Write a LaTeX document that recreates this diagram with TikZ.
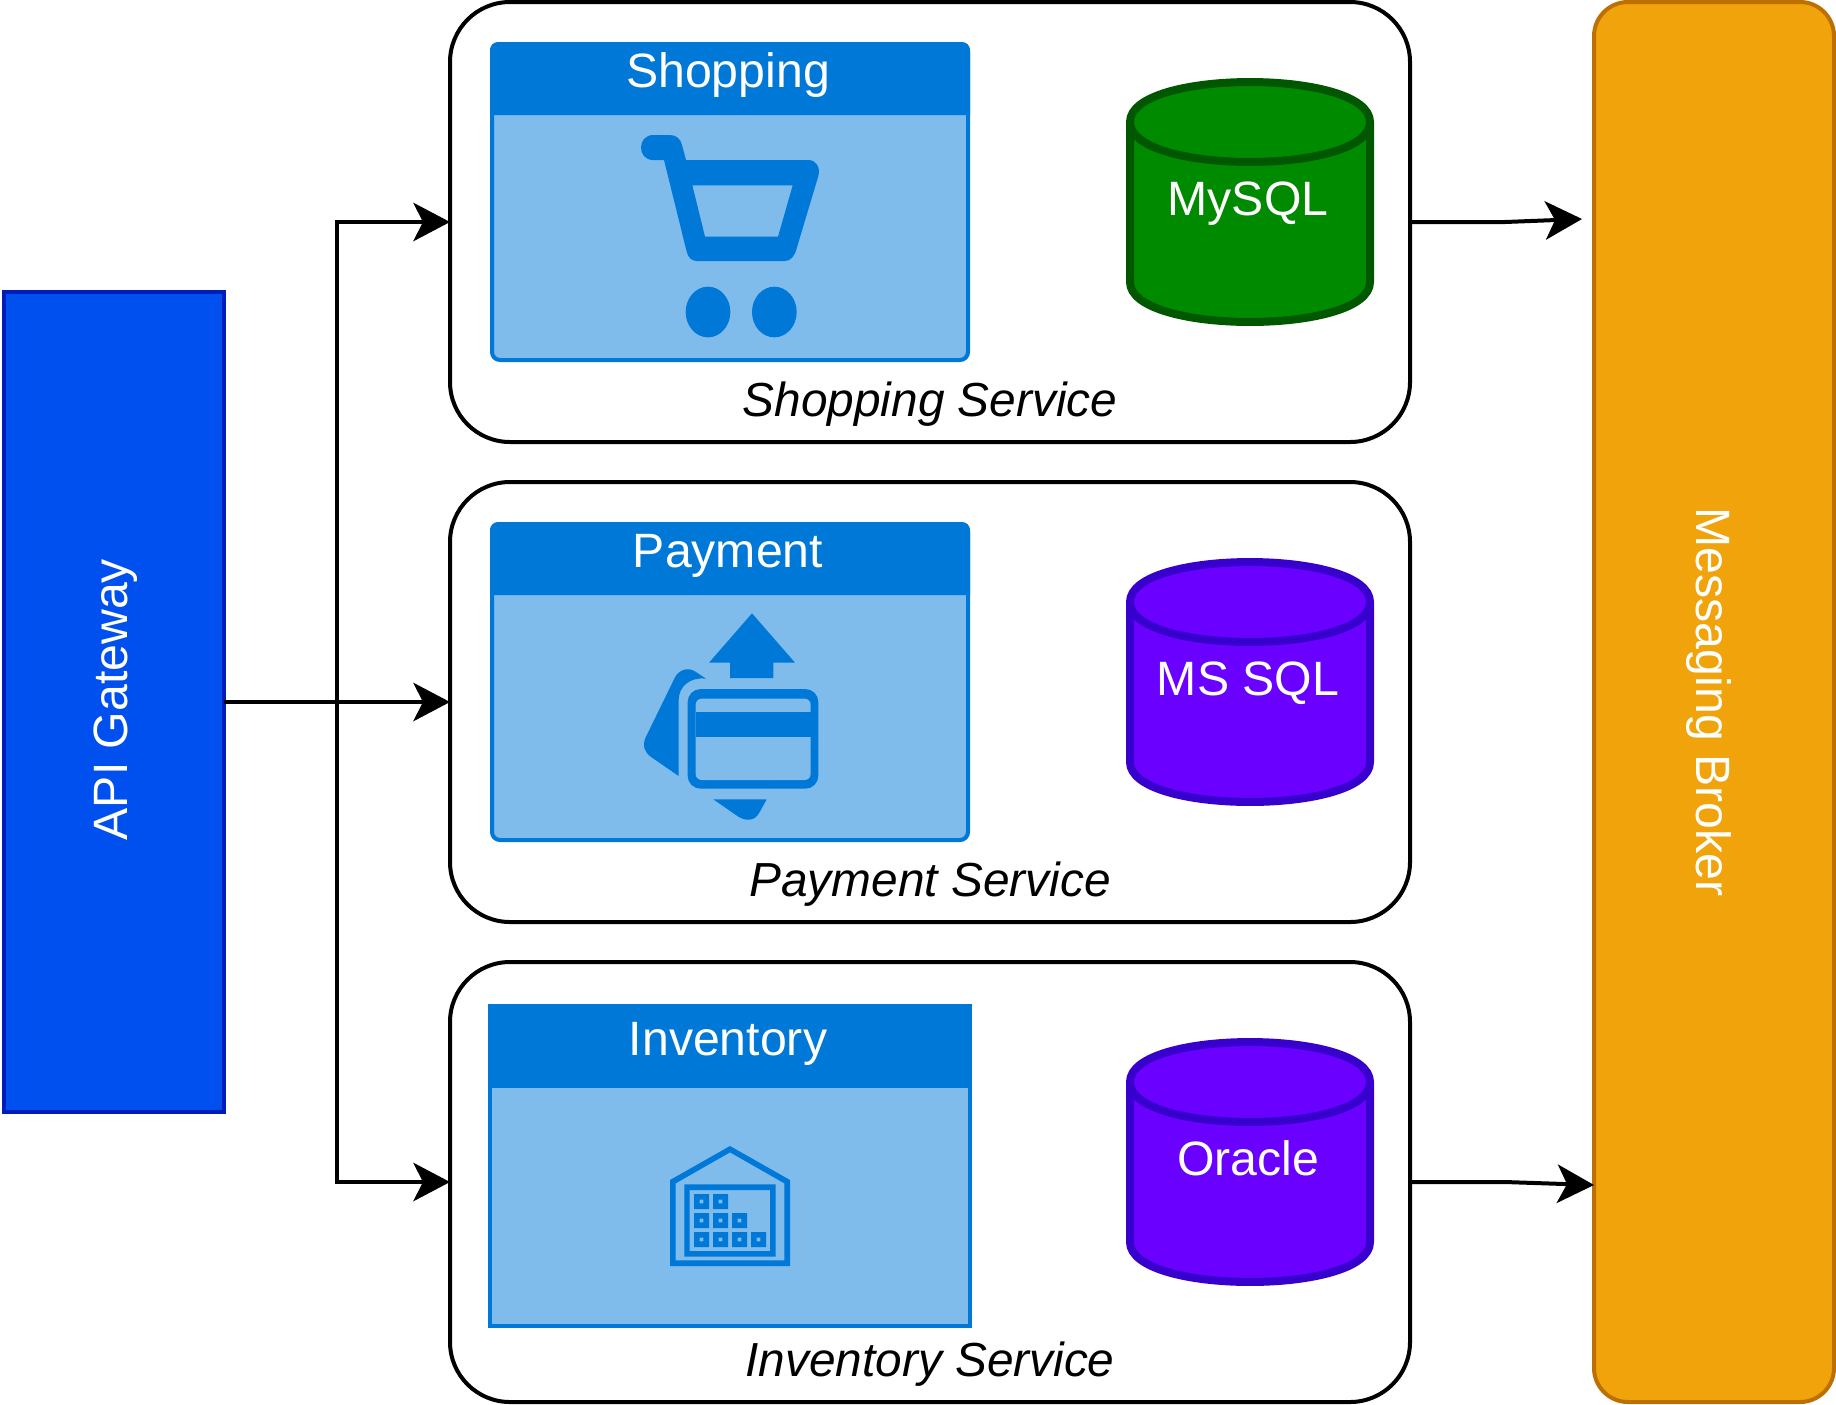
\documentclass[tikz,border=0pt]{standalone}
\usepackage{fontspec}
\setmainfont{Liberation Sans}
\usetikzlibrary{arrows.meta}
\definecolor{azure}{HTML}{0078D7}
\definecolor{azurelt}{HTML}{7FBBEB}
\definecolor{gwfill}{HTML}{0050EF}
\definecolor{gwline}{HTML}{001DBC}
\definecolor{mbfill}{HTML}{F0A30A}
\definecolor{mbline}{HTML}{BD7000}
\definecolor{grfill}{HTML}{008A00}
\definecolor{grline}{HTML}{005700}
\definecolor{pufill}{HTML}{6A00FF}
\definecolor{puline}{HTML}{3700CC}
\tikzset{
  base/.style={inner sep=0pt,outer sep=0pt},
  lbl/.style={base,font=\fontsize{24.1pt}{26pt}\selectfont,anchor=base},
  wlbl/.style={lbl,text=white},
  ilbl/.style={lbl,font=\fontsize{23.9pt}{26pt}\selectfont\itshape},
  service/.style={base,draw=black,line width=2pt,fill=white,rounded corners=30pt,minimum width=480pt,minimum height=220pt},
  panel/.style={base,draw=azure,line width=2pt,fill=azurelt,minimum width=238pt,minimum height=158pt},
  conn/.style={draw=black,line width=2pt,-{Stealth[length=18.5pt,width=19.5pt,inset=5pt,line width=0pt]}},
  icon/.style={fill=azure,draw=none,even odd rule},
  zoomed/.style={x=0.16667pt,y=-0.16667pt}
}
\newcommand{\dbcyl}[3]{%
  \begin{scope}[shift={(0,#1)}]
    \path[draw=#3,fill=#2,line width=4pt]
      (1130,122) .. controls (1130,68.7) and (1370,68.7) .. (1370,122)
      -- (1370,282) .. controls (1370,335.3) and (1130,335.3) .. (1130,282) -- cycle;
    \draw[#3,line width=4pt] (1130,122) .. controls (1130,175.3) and (1370,175.3) .. (1370,122);
  \end{scope}}
\begin{document}
\begin{tikzpicture}[x=0.5pt,y=-0.5pt]
\useasboundingbox (0,0) rectangle (1836,1404);
% gateway and broker
\node[base,draw=gwline,fill=gwfill,line width=2pt,minimum width=110pt,minimum height=410pt] (gw) at (114,702) {};
\node[wlbl,rotate=90] (gwt) at (127,699.5) {API Gateway};
\node[base,draw=mbline,fill=mbfill,line width=2pt,rounded corners=17pt,minimum width=120pt,minimum height=700pt] (mb) at (1714,702) {};
\node[wlbl,rotate=-90] (mbt) at (1696.5,702) {Messaging Broker};
% services
\node[service] (shop) at (930,222) {};
\node[service] (pay) at (930,702) {};
\node[service] (inv) at (930,1182) {};
\node[ilbl] (shopt) at (930,416) {Shopping Service};
\node[ilbl] (payt) at (930,896) {Payment Service};
\node[ilbl] (invt) at (930,1376) {Inventory Service};
% Shopping panel
\node[panel,rounded corners=4pt] (shopb) at (730,202) {};
\fill[azure] (490,115) -- (490,48) [rounded corners=4pt] -- (490,42) -- (970,42) [sharp corners] -- (970,115) -- cycle;
\node[wlbl] (shoph) at (728,87) {Shopping};
% Payment panel
\node[panel,rounded corners=4pt] (payb) at (730,682) {};
\fill[azure] (490,595) -- (490,528) [rounded corners=4pt] -- (490,522) -- (970,522) [sharp corners] -- (970,595) -- cycle;
\node[wlbl] (payh) at (728,567) {Payment};
% Inventory panel
\node[panel,minimum width=240pt,minimum height=160pt] (invb) at (730,1166) {};
\fill[azure] (488,1088) rectangle (972,1004);
\node[wlbl] (invh) at (728,1055) {Inventory};
% cart
\begin{scope}[shift={(480,30)},zoomed]
\path[icon] (520,315) -- (570,315) .. controls (590,315) and (602,328) .. (606,345) -- (618,390) -- (985,390)
  .. controls (1008,390) and (1022,412) .. (1015,438) -- (950,655) .. controls (944,678) and (932,693) .. (915,693)
  -- (650,693) .. controls (635,693) and (624,682) .. (620,665) -- (552,390) -- (520,390)
  .. controls (495,390) and (483,372) .. (483,352) .. controls (483,332) and (497,315) .. (520,315) -- cycle
  (637,466) -- (938,466) -- (894,620) -- (675,620) -- cycle;
\fill[azure] (684,846) ellipse [x radius=67,y radius=76];
\fill[azure] (883,846) ellipse [x radius=67,y radius=76];
\end{scope}
% payment icon
\begin{scope}[shift={(620,600)},zoomed]
\path[icon] (396,40) -- (525,188) -- (460,188) -- (460,234) -- (330,234) -- (330,188) -- (267,188) -- cycle;
\path[icon] (258,236) -- (228,216) .. controls (205,200) and (178,208) .. (165,232) -- (78,410)
  .. controls (66,435) and (72,455) .. (92,470) -- (176,528) -- (176,300) .. controls (176,260) and (210,230) .. (258,236) -- cycle;
\path[icon,rounded corners=6.5pt] (203,267) rectangle (595,566);
\path[fill=azurelt,rounded corners=3pt] (227,296) rectangle (572,540);
\fill[azure] (227,336) rectangle (572,410);
\path[icon] (280,598) -- (440,598) -- (418,638) .. controls (405,662) and (380,665) .. (355,650) -- cycle;
\end{scope}
% warehouse icon
\begin{scope}[shift={(480,990)},zoomed]
\path[icon] (750,468) -- (930,570) -- (930,828) -- (570,828) -- (570,570) -- cycle
  (750,487) -- (913,580) -- (913,811) -- (587,811) -- (587,580) -- cycle
  (613,583) rectangle (887,800) (629,600) rectangle (870,783);
\foreach \bx/\by in {642/612,699/612,642/669,699/669,756/669,642/726,699/726,756/726,813/726}{
  \path[icon] (\bx,\by) rectangle ++(45,45) (\bx+17,\by+17) rectangle ++(11,11);
}
\end{scope}
% cylinders
\dbcyl{0}{grfill}{grline}
\dbcyl{480}{pufill}{puline}
\dbcyl{960}{pufill}{puline}
\node[wlbl] (db1) at (1248,215) {MySQL};
\node[wlbl] (db2) at (1248,695) {MS SQL};
\node[wlbl] (db3) at (1248,1175) {Oracle};
% connectors
\coordinate (j) at (337,702);
\coordinate (k1) at (1505,222);
\coordinate (e1) at (1582,219);
\coordinate (k2) at (1505,1182);
\path[conn] (gw.east) -- (pay.west);
\path[conn] (j) |- (shop.west);
\path[conn] (j) |- (inv.west);
\path[conn] (shop.east) -- (k1) -- (e1);
\path[conn] (inv.east) -- (k2) -- (mb.west |- 0,1185);
\end{tikzpicture}
\end{document}
